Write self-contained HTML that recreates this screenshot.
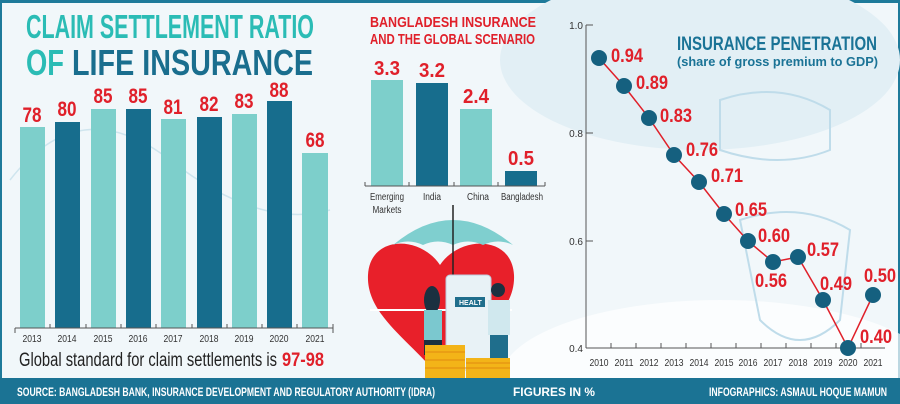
<!DOCTYPE html>
<html><head><meta charset="utf-8"><style>
html,body{margin:0;padding:0;background:#eef6f9;width:900px;height:404px;overflow:hidden}
svg{display:block}
text{font-family:"Liberation Sans Narrow","Liberation Sans",sans-serif}
</style></head><body>
<svg width="900" height="404" viewBox="0 0 900 404" xmlns="http://www.w3.org/2000/svg">
<rect width="900" height="404" fill="#f1f7fa"/>
<rect x="0" y="0" width="900" height="3" fill="#1e7a9a"/>
<rect x="0" y="0" width="2" height="404" fill="#1e7a9a"/>
<rect x="898" y="0" width="2" height="404" fill="#1e7a9a"/>
<ellipse cx="700" cy="60" rx="200" ry="90" fill="#e2eff5"/>
<ellipse cx="720" cy="380" rx="220" ry="80" fill="#ffffff" opacity="0.7"/>
<path d="M10 180 Q80 90 170 160 T330 210" fill="none" stroke="#cfe5ee" stroke-width="1.5"/>
<path d="M720 100 Q780 80 830 110 L830 150 Q780 170 720 150 Z" fill="none" stroke="#bfdcea" stroke-width="2"/>
<path d="M740 220 Q800 200 850 230 L840 320 Q800 360 760 320 Z" fill="none" stroke="#bfdcea" stroke-width="2"/>

<text x="26" y="38" font-size="33" font-weight="bold" fill="#2bbcb5" textLength="288" lengthAdjust="spacingAndGlyphs">CLAIM SETTLEMENT RATIO</text>
<text x="26" y="75" font-size="36" font-weight="bold" fill="#2bbcb5" textLength="38" lengthAdjust="spacingAndGlyphs">OF</text>
<text x="72" y="75" font-size="36" font-weight="bold" fill="#1a6e8e" textLength="241" lengthAdjust="spacingAndGlyphs">LIFE INSURANCE</text>

<g>
<rect x="20" y="127" width="25" height="201" fill="#7dcfcb"/>
<rect x="55" y="122" width="25" height="206" fill="#176d8d"/>
<rect x="91" y="109" width="25" height="219" fill="#7dcfcb"/>
<rect x="126" y="109" width="25" height="219" fill="#176d8d"/>
<rect x="161" y="119" width="25" height="209" fill="#7dcfcb"/>
<rect x="197" y="117" width="25" height="211" fill="#176d8d"/>
<rect x="232" y="114" width="25" height="214" fill="#7dcfcb"/>
<rect x="267" y="101" width="25" height="227" fill="#176d8d"/>
<rect x="302" y="153" width="26" height="175" fill="#7dcfcb"/>
</g>
<g font-size="21" font-weight="bold" fill="#e0202a" text-anchor="middle">
<text x="32" y="122" textLength="19" lengthAdjust="spacingAndGlyphs">78</text><text x="67" y="116" textLength="19" lengthAdjust="spacingAndGlyphs">80</text><text x="103" y="103" textLength="19" lengthAdjust="spacingAndGlyphs">85</text>
<text x="138" y="103" textLength="19" lengthAdjust="spacingAndGlyphs">85</text><text x="173" y="114" textLength="19" lengthAdjust="spacingAndGlyphs">81</text><text x="209" y="111" textLength="19" lengthAdjust="spacingAndGlyphs">82</text>
<text x="244" y="108" textLength="19" lengthAdjust="spacingAndGlyphs">83</text><text x="279" y="97" textLength="19" lengthAdjust="spacingAndGlyphs">88</text><text x="315" y="147" textLength="19" lengthAdjust="spacingAndGlyphs">68</text>
</g>
<line x1="15" y1="328" x2="333" y2="328" stroke="#555" stroke-width="1"/>
<g stroke="#555" stroke-width="1">
<line x1="15" y1="328" x2="15" y2="333"/><line x1="50" y1="324" x2="50" y2="328"/><line x1="86" y1="324" x2="86" y2="328"/><line x1="121" y1="324" x2="121" y2="328"/><line x1="156" y1="324" x2="156" y2="328"/><line x1="192" y1="324" x2="192" y2="328"/><line x1="227" y1="324" x2="227" y2="328"/><line x1="262" y1="324" x2="262" y2="328"/><line x1="297" y1="324" x2="297" y2="328"/><line x1="333" y1="324" x2="333" y2="333"/>
</g>
<g font-size="10" fill="#333" text-anchor="middle">
<text x="32" y="342" textLength="19" lengthAdjust="spacingAndGlyphs">2013</text><text x="67" y="342" textLength="19" lengthAdjust="spacingAndGlyphs">2014</text><text x="103" y="342" textLength="19" lengthAdjust="spacingAndGlyphs">2015</text><text x="138" y="342" textLength="19" lengthAdjust="spacingAndGlyphs">2016</text><text x="173" y="342" textLength="19" lengthAdjust="spacingAndGlyphs">2017</text><text x="209" y="342" textLength="19" lengthAdjust="spacingAndGlyphs">2018</text><text x="244" y="342" textLength="19" lengthAdjust="spacingAndGlyphs">2019</text><text x="279" y="342" textLength="19" lengthAdjust="spacingAndGlyphs">2020</text><text x="315" y="342" textLength="19" lengthAdjust="spacingAndGlyphs">2021</text>
</g>
<text x="19" y="366" font-size="19" fill="#222" textLength="258" lengthAdjust="spacingAndGlyphs">Global standard for claim settlements is</text>
<text x="282" y="366" font-size="19" font-weight="bold" fill="#e0202a" textLength="42" lengthAdjust="spacingAndGlyphs">97-98</text>

<text x="370" y="27" font-size="15" font-weight="bold" fill="#e0202a" textLength="166" lengthAdjust="spacingAndGlyphs">BANGLADESH INSURANCE</text>
<text x="370" y="44" font-size="15" font-weight="bold" fill="#e0202a" textLength="165" lengthAdjust="spacingAndGlyphs">AND THE GLOBAL SCENARIO</text>
<rect x="371" y="80" width="32" height="106" fill="#7dcfcb"/>
<rect x="416" y="83" width="32" height="103" fill="#176d8d"/>
<rect x="460" y="109" width="32" height="77" fill="#7dcfcb"/>
<rect x="505" y="171" width="32" height="15" fill="#176d8d"/>
<g font-size="20" font-weight="bold" fill="#e0202a" text-anchor="middle">
<text x="387" y="75" textLength="26" lengthAdjust="spacingAndGlyphs">3.3</text><text x="432" y="77" textLength="26" lengthAdjust="spacingAndGlyphs">3.2</text><text x="476" y="103" textLength="26" lengthAdjust="spacingAndGlyphs">2.4</text><text x="521" y="165" textLength="26" lengthAdjust="spacingAndGlyphs">0.5</text>
</g>
<line x1="365" y1="186" x2="545" y2="186" stroke="#555"/>
<g stroke="#555"><line x1="365" y1="182" x2="365" y2="186"/><line x1="409" y1="182" x2="409" y2="186"/><line x1="454" y1="182" x2="454" y2="186"/><line x1="498" y1="182" x2="498" y2="186"/><line x1="545" y1="182" x2="545" y2="186"/></g>
<g font-size="10" fill="#333" text-anchor="middle">
<text x="387" y="200" textLength="34" lengthAdjust="spacingAndGlyphs">Emerging</text><text x="387" y="213" textLength="29" lengthAdjust="spacingAndGlyphs">Markets</text><text x="432" y="200" textLength="18" lengthAdjust="spacingAndGlyphs">India</text><text x="478" y="200" textLength="22" lengthAdjust="spacingAndGlyphs">China</text><text x="522" y="200" textLength="42" lengthAdjust="spacingAndGlyphs">Bangladesh</text>
</g>

<path d="M440 265 C420 235 370 235 368 275 C366 315 410 340 440 378 C470 340 516 315 514 275 C512 235 460 235 440 265 Z" fill="#e8202a"/>
<line x1="370" y1="310" x2="512" y2="310" stroke="#fff" stroke-width="2"/>
<path d="M393 245 Q453 195 513 245 Q498 238 483 245 Q468 238 453 245 Q438 238 423 245 Q408 238 393 245 Z" fill="#7fcfcf"/>
<line x1="453" y1="205" x2="453" y2="325" stroke="#222" stroke-width="1.5"/>
<rect x="446" y="275" width="45" height="95" rx="4" fill="#e8f2f6" stroke="#bcd" />
<rect x="455" y="297" width="30" height="10" fill="#1f6e8c"/>
<text x="459" y="305" font-size="7" fill="#fff" font-weight="bold">HEALT</text>
<ellipse cx="432" cy="300" rx="8" ry="14" fill="#1b3040"/>
<rect x="424" y="310" width="18" height="30" fill="#7bc8cf"/>
<rect x="424" y="340" width="18" height="15" fill="#1b3040"/>
<circle cx="498" cy="290" r="7" fill="#1b3040"/>
<rect x="488" y="300" width="22" height="35" fill="#d0e8ee"/>
<rect x="490" y="335" width="18" height="35" fill="#1f6e8c"/>
<g fill="#f3b418"><rect x="425" y="345" width="40" height="33"/><rect x="466" y="358" width="44" height="20"/></g>
<g stroke="#e08a10" stroke-width="1"><line x1="425" y1="352" x2="465" y2="352"/><line x1="425" y1="360" x2="465" y2="360"/><line x1="425" y1="368" x2="510" y2="368"/><line x1="466" y1="363" x2="510" y2="363"/></g>

<text x="677" y="50" font-size="19" font-weight="bold" fill="#1a7396" textLength="200" lengthAdjust="spacingAndGlyphs">INSURANCE PENETRATION</text>
<text x="677" y="66" font-size="13" font-weight="bold" fill="#1a7396" textLength="201" lengthAdjust="spacingAndGlyphs">(share of gross premium to GDP)</text>
<line x1="586" y1="25" x2="586" y2="348" stroke="#555"/>
<line x1="586" y1="348" x2="885" y2="348" stroke="#555"/>
<g stroke="#555"><line x1="586" y1="25" x2="593" y2="25"/><line x1="586" y1="133" x2="593" y2="133"/><line x1="586" y1="241" x2="593" y2="241"/></g>
<g font-size="10" fill="#333" text-anchor="end"><text x="583" y="29">1.0</text><text x="583" y="137">0.8</text><text x="583" y="245">0.6</text><text x="583" y="352">0.4</text></g>
<g stroke="#555">
<line x1="611" y1="343" x2="611" y2="348"/><line x1="636" y1="343" x2="636" y2="348"/><line x1="661" y1="343" x2="661" y2="348"/><line x1="686" y1="343" x2="686" y2="348"/><line x1="711" y1="343" x2="711" y2="348"/><line x1="736" y1="343" x2="736" y2="348"/><line x1="761" y1="343" x2="761" y2="348"/><line x1="786" y1="343" x2="786" y2="348"/><line x1="811" y1="343" x2="811" y2="348"/><line x1="836" y1="343" x2="836" y2="348"/><line x1="861" y1="343" x2="861" y2="348"/>
</g>
<g font-size="10" fill="#333" text-anchor="middle">
<text x="599" y="366" textLength="19" lengthAdjust="spacingAndGlyphs">2010</text><text x="624" y="366" textLength="19" lengthAdjust="spacingAndGlyphs">2011</text><text x="649" y="366" textLength="19" lengthAdjust="spacingAndGlyphs">2012</text><text x="674" y="366" textLength="19" lengthAdjust="spacingAndGlyphs">2013</text><text x="699" y="366" textLength="19" lengthAdjust="spacingAndGlyphs">2014</text><text x="724" y="366" textLength="19" lengthAdjust="spacingAndGlyphs">2015</text><text x="748" y="366" textLength="19" lengthAdjust="spacingAndGlyphs">2016</text><text x="773" y="366" textLength="19" lengthAdjust="spacingAndGlyphs">2017</text><text x="798" y="366" textLength="19" lengthAdjust="spacingAndGlyphs">2018</text><text x="823" y="366" textLength="19" lengthAdjust="spacingAndGlyphs">2019</text><text x="848" y="366" textLength="19" lengthAdjust="spacingAndGlyphs">2020</text><text x="873" y="366" textLength="19" lengthAdjust="spacingAndGlyphs">2021</text>
</g>
<polyline fill="none" stroke="#e0202a" stroke-width="1.5" points="599,58 624,86 649,118 674,155 699,182 724,214 748,241 773,262 798,257 823,300 848,348 873,295"/>
<g fill="#15607f">
<circle cx="599" cy="58" r="8"/><circle cx="624" cy="86" r="8"/><circle cx="649" cy="118" r="8"/><circle cx="674" cy="155" r="8"/><circle cx="699" cy="182" r="8"/><circle cx="724" cy="214" r="8"/><circle cx="748" cy="241" r="8"/><circle cx="773" cy="262" r="8"/><circle cx="798" cy="257" r="8"/><circle cx="823" cy="300" r="8"/><circle cx="848" cy="348" r="8"/><circle cx="873" cy="295" r="8"/>
</g>
<g font-size="19" font-weight="bold" fill="#e0202a">
<text x="611" y="62" textLength="32" lengthAdjust="spacingAndGlyphs">0.94</text><text x="636" y="89" textLength="32" lengthAdjust="spacingAndGlyphs">0.89</text><text x="660" y="122" textLength="32" lengthAdjust="spacingAndGlyphs">0.83</text><text x="686" y="156" textLength="32" lengthAdjust="spacingAndGlyphs">0.76</text><text x="711" y="182" textLength="32" lengthAdjust="spacingAndGlyphs">0.71</text><text x="735" y="216" textLength="32" lengthAdjust="spacingAndGlyphs">0.65</text><text x="758" y="242" textLength="32" lengthAdjust="spacingAndGlyphs">0.60</text><text x="755" y="287" textLength="32" lengthAdjust="spacingAndGlyphs">0.56</text><text x="807" y="256" textLength="32" lengthAdjust="spacingAndGlyphs">0.57</text><text x="820" y="290" textLength="32" lengthAdjust="spacingAndGlyphs">0.49</text><text x="864" y="282" textLength="32" lengthAdjust="spacingAndGlyphs">0.50</text><text x="860" y="343" textLength="32" lengthAdjust="spacingAndGlyphs">0.40</text>
</g>

<rect x="0" y="378" width="900" height="26" fill="#1b7394"/>
<g font-size="12" font-weight="bold" fill="#fff">
<text x="17" y="396" textLength="418" lengthAdjust="spacingAndGlyphs">SOURCE: BANGLADESH BANK, INSURANCE DEVELOPMENT AND REGULATORY AUTHORITY (IDRA)</text>
<text x="513" y="396" textLength="82" lengthAdjust="spacingAndGlyphs">FIGURES IN %</text>
<text x="709" y="396" textLength="178" lengthAdjust="spacingAndGlyphs">INFOGRAPHICS: ASMAUL HOQUE MAMUN</text>
</g>
</svg>
</body></html>
